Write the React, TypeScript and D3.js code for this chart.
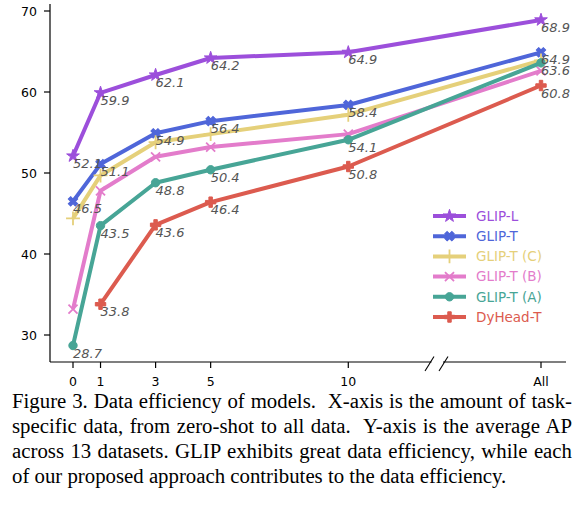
import React, { useEffect, useRef } from 'react';
import * as d3 from 'd3';

const shots = [0, 1, 3, 5, 10, 17];
const shotLabels = ['0', '1', '3', '5', '10', 'All'];
const yTicks = [30, 40, 50, 60, 70];

const seriesNames = ['GLIP-L', 'GLIP-T', 'GLIP-T (C)', 'GLIP-T (B)', 'GLIP-T (A)', 'DyHead-T'];
const glipL = [52.1, 59.9, 62.1, 64.2, 64.9, 68.9];
const glipT = [46.5, 51.1, 54.9, 56.4, 58.4, 64.9];
const glipTC = [44.4, 49.7, 53.8, 54.8, 57.2, 63.9];
const glipTB = [33.2, 47.8, 52.0, 53.2, 54.8, 62.6];
const glipTA = [28.7, 43.5, 48.8, 50.4, 54.1, 63.6];
const dyhead = [null, 33.8, 43.6, 46.4, 50.8, 60.8];
const showLabels = [true, true, false, false, true, true];

const captionLines = [
  'Figure 3. Data efficiency of models.  X-axis is the amount of task-',
  'specific data, from zero-shot to all data.  Y-axis is the average AP',
  'across 13 datasets. GLIP exhibits great data efficiency, while each',
  'of our proposed approach contributes to the data efficiency.',
];

const colors = ['#9c4fdb', '#4f66d9', '#e5d07a', '#e37ccb', '#47a596', '#dc5b4f'];

const W = 584;
const H = 508;

const x = d3.scaleLinear().domain([0, 17]).range([73, 541]);
const y = d3.scaleLinear().domain([30, 70]).range([335, 11]);

const axisLeftX = 50;
const axisBottomY = 362;

type Marker = { type: d3.SymbolType; size: number; rotate: number; filled: boolean };
const markers: Marker[] = [
  { type: d3.symbolStar, size: 50, rotate: 0, filled: true },
  { type: d3.symbolCross, size: 55, rotate: 45, filled: true },
  { type: d3.symbolPlus, size: 65, rotate: 0, filled: false },
  { type: d3.symbolX, size: 55, rotate: 0, filled: false },
  { type: d3.symbolCircle, size: 55, rotate: 0, filled: true },
  { type: d3.symbolCross, size: 60, rotate: 0, filled: true },
];

const allSeries = [glipL, glipT, glipTC, glipTB, glipTA, dyhead];

const MarkerShape: React.FC<{ m: Marker; color: string; cx: number; cy: number }> = ({ m, color, cx, cy }) => {
  const d = d3.symbol().type(m.type).size(m.size)() || '';
  return (
    <path
      d={d}
      transform={`translate(${cx},${cy}) rotate(${m.rotate})`}
      fill={m.filled ? color : 'none'}
      stroke={color}
      strokeWidth={m.filled ? 1 : 1.8}
    />
  );
};

export default function App() {
  const captionRef = useRef<SVGGElement>(null);

  useEffect(() => {
    // justify the caption lines like the LaTeX source
    const g = captionRef.current;
    if (!g) return;
    d3.select(g)
      .selectAll<SVGTextElement, unknown>('text.just')
      .each(function () {
        const natural = this.getComputedTextLength();
        const spaces = (this.textContent || '').split(' ').length - 1;
        const target = 572 - 12;
        if (spaces > 0) d3.select(this).attr('word-spacing', (target - natural) / spaces);
      });
  }, []);

  const line = d3
    .line<number | null>()
    .defined(d => d !== null)
    .x((_, i) => x(shots[i]))
    .y(d => y(d as number));

  return (
    <svg
      width={W}
      height={H}
      style={{ position: 'absolute', left: 0, top: 0, background: '#fff' }}
      fontFamily="DejaVu Sans"
    >
      {/* axes */}
      <line x1={axisLeftX} x2={axisLeftX} y1={4} y2={axisBottomY} stroke="#000" strokeWidth={1.2} />
      <line x1={axisLeftX} x2={431.5} y1={axisBottomY} y2={axisBottomY} stroke="#000" strokeWidth={1.2} />
      <line x1={443} x2={566} y1={axisBottomY} y2={axisBottomY} stroke="#000" strokeWidth={1.2} />
      <line x1={425} y1={371} x2={434} y2={356.5} stroke="#000" strokeWidth={1.1} />
      <line x1={439} y1={371} x2={448} y2={356.5} stroke="#000" strokeWidth={1.1} />

      {yTicks.map(t => (
        <g key={t} transform={`translate(0,${y(t)})`}>
          <line x1={axisLeftX - 6} x2={axisLeftX} stroke="#000" strokeWidth={1.2} />
          <text x={37} textAnchor="end" dy="0.36em" fontSize={12.5} fill="#000">
            {t}
          </text>
        </g>
      ))}
      {shots.map((s, i) => (
        <g key={s} transform={`translate(${x(s)},${axisBottomY})`}>
          <line y1={0} y2={6} stroke="#000" strokeWidth={1.2} />
          <text y={24} textAnchor="middle" fontSize={12.5} fill="#000">
            {shotLabels[i]}
          </text>
        </g>
      ))}

      {/* series */}
      {allSeries.map((vals, si) => (
        <g key={seriesNames[si]}>
          <path d={line(vals) || ''} fill="none" stroke={colors[si]} strokeWidth={4} strokeLinejoin="round" />
          {vals.map((v, i) =>
            v === null ? null : (
              <MarkerShape key={i} m={markers[si]} color={colors[si]} cx={x(shots[i])} cy={y(v)} />
            )
          )}
        </g>
      ))}

      {/* value labels */}
      {allSeries.map((vals, si) =>
        showLabels[si]
          ? vals.map((v, i) =>
              v === null ? null : (
                <text
                  key={`${si}-${i}`}
                  x={x(shots[i])}
                  y={y(v) + 12}
                  fontSize={13}
                  fontStyle="italic"
                  fill="#555"
                >
                  {v.toFixed(1)}
                </text>
              )
            )
          : null
      )}

      {/* legend */}
      {seriesNames.map((name, i) => {
        const ly = 216 + i * 20.2;
        return (
          <g key={name}>
            <line x1={433} x2={466} y1={ly} y2={ly} stroke={colors[i]} strokeWidth={4} />
            <MarkerShape m={markers[i]} color={colors[i]} cx={449.5} cy={ly} />
            <text x={476} y={ly} dy="0.36em" fontSize={13.5} fill={colors[i]}>
              {name}
            </text>
          </g>
        );
      })}

      {/* caption */}
      <g ref={captionRef} fontFamily="Liberation Serif" fontSize={20.8} fill="#000">
        {captionLines.map((t, i) => (
          <text
            key={i}
            className={i < captionLines.length - 1 ? 'just' : ''}
            x={12}
            y={408 + i * 25}
            xmlSpace="preserve"
          >
            {t}
          </text>
        ))}
      </g>
    </svg>
  );
}
